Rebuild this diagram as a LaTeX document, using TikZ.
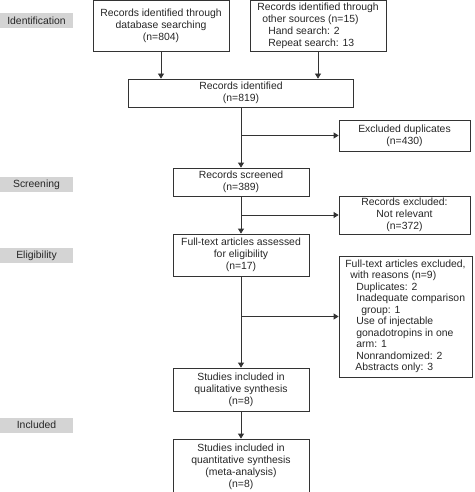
\documentclass[tikz,border=0pt]{standalone}
\usepackage{fontspec}
\setmainfont{Liberation Sans}
\usetikzlibrary{arrows.meta}
\begin{document}
\begin{tikzpicture}[x=1pt,y=-1pt,
  font=\fontsize{10.4}{12}\selectfont,
  box/.style={draw=black!80, line width=0.8pt, align=center, inner sep=0pt, text=black!85},
  lab/.style={fill=black!17, minimum width=73pt, minimum height=15pt, inner sep=0pt, text=black!85},
  arr/.style={draw=black!80, line width=0.8pt, -{Triangle[length=5pt,width=6pt]}}]
\useasboundingbox (0,0) rectangle (474,492);
% stage labels
\node[lab] (l1) at (36.5,20.5) {Identification};
\node[lab] (l2) at (36.5,184.5) {Screening};
\node[lab] (l3) at (36.5,255.5) {Eligibility};
\node[lab] (l4) at (36.5,425) {Included};
% boxes
\node[box, minimum width=136pt, minimum height=51pt] (db) at (161,25.5)
  {Records identified through\\database searching\\(n=804)};
\node[box, align=left, minimum width=136pt, minimum height=51pt] (other) at (318,25.5)
  {Records identified through\\\hspace*{5pt}other sources (n=15)\\\hspace*{11pt}Hand search: 2\\\hspace*{11pt}Repeat search: 13};
\node[box, minimum width=225pt, minimum height=28pt] (ident) at (241,93)
  {Records identified\\(n=819)};
\node[box, minimum width=131pt, minimum height=31pt] (dup) at (404.5,135.5)
  {Excluded duplicates\\(n=430)};
\node[box, minimum width=136pt, minimum height=28pt] (screened) at (241,182)
  {Records screened\\(n=389)};
\node[box, minimum width=131pt, minimum height=38pt] (excl1) at (404.5,215)
  {Records excluded:\\Not relevant\\(n=372)};
\node[box, minimum width=136pt, minimum height=42pt] (fulltext) at (241,255)
  {Full-text articles assessed\\for eligibility\\(n=17)};
\node[box, align=left, minimum width=133pt, minimum height=121pt,
      font=\fontsize{10.4}{11.5}\selectfont] (excl2) at (405.5,316.5)
  {Full-text articles excluded,\\\hspace*{5pt}with reasons (n=9)\\\hspace*{11pt}Duplicates: 2\\\hspace*{11pt}Inadequate comparison\\\hspace*{16pt}group: 1\\\hspace*{11pt}Use of injectable\\\hspace*{11pt}gonadotropins in one\\\hspace*{11pt}arm: 1\\\hspace*{11pt}Nonrandomized: 2\\\hspace*{10pt}Abstracts only: 3};
\node[box, minimum width=136pt, minimum height=43pt] (qual) at (241,389.5)
  {Studies included in\\qualitative synthesis\\(n=8)};
\node[box, minimum width=136pt, minimum height=56pt] (quant) at (241,467)
  {Studies included in\\quantitative synthesis\\(meta-analysis)\\(n=8)};
% connectors
\draw[arr] (db.south) -- (db.south |- ident.north);
\draw[arr] (other.south) -- (other.south |- ident.north);
\draw[arr] (ident.south) -- (screened.north);
\draw[arr] (ident.south |- dup.west) -- (dup.west);
\draw[arr] (screened.south) -- (fulltext.north);
\draw[arr] (screened.south |- excl1.west) -- (excl1.west);
\draw[arr] (fulltext.south) -- (qual.north);
\draw[arr] (fulltext.south |- excl2.west) -- (excl2.west);
\draw[arr] (qual.south) -- (quant.north);
\end{tikzpicture}
\end{document}
